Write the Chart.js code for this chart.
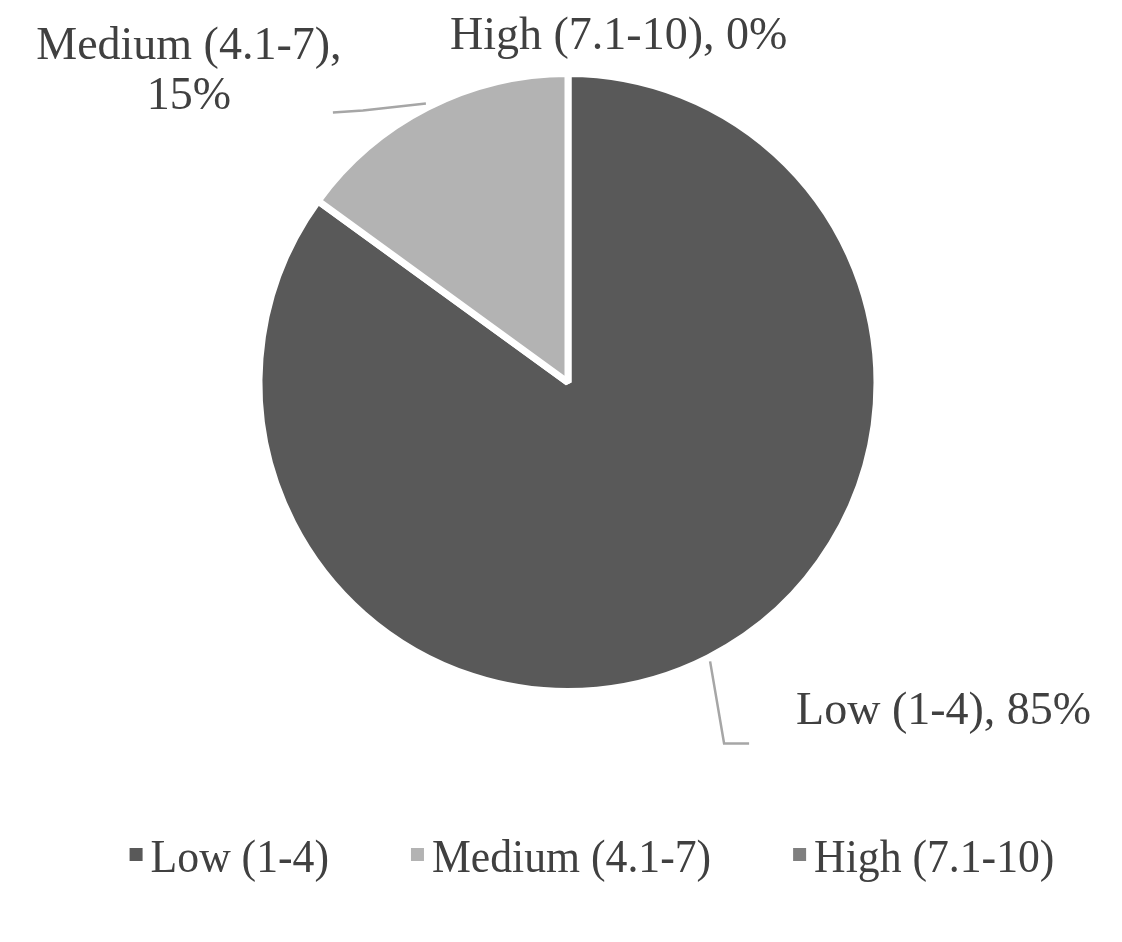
<!DOCTYPE html>
<html>

<head>
  <title>Risk Level Pie</title>
  <script src="https://cdn.jsdelivr.net/npm/chart.js"></script>
</head>

<body>
  <div class="container">
    <canvas id="pieChart"></canvas>
  </div>
</body>

<style>
  html,
  body {
    margin: 0;
    padding: 0;
    background: #fff;
  }

  .container {
    position: relative;
    width: 1122px;
    height: 942px;
  }
</style>

<script>
  // chart data
  const categories = ['Low (1-4)', 'Medium (4.1-7)', 'High (7.1-10)'];
  const percentages = [85, 15, 0];
  const sliceColors = ['#595959', '#b3b3b3', '#7f7f7f'];

  const fontFamily = '"Liberation Serif", "Times New Roman", serif';
  const textColor = '#404040';
  const leaderColor = '#a6a6a6';

  // where each data label sits, relative to a point just outside its slice
  const labelLayout = [
    { lines: [0], dx: 86, dy: 63, align: 'left', leader: [[14, 82], [39, 82]] },
    { lines: [-50, 0], split: true, dx: -237, dy: 5, align: 'center', leader: [[-63, 7], [-93, 9]] },
    { lines: [0], dx: -118, dy: -21, align: 'left', leader: null },
  ];

  // draws "Category, N%" labels with leader lines
  const dataLabels = {
    id: 'dataLabels',
    afterDatasetsDraw(chart) {
      const ctx = chart.ctx;
      const meta = chart.getDatasetMeta(0);
      ctx.save();
      ctx.font = '46px ' + fontFamily;
      ctx.fillStyle = textColor;
      ctx.textBaseline = 'alphabetic';
      meta.data.forEach((arc, i) => {
        const p = arc.getProps(['x', 'y', 'startAngle', 'endAngle', 'outerRadius'], true);
        const mid = (p.startAngle + p.endAngle) / 2;
        const ax = p.x + Math.cos(mid) * (p.outerRadius + 4);
        const ay = p.y + Math.sin(mid) * (p.outerRadius + 4);
        const lay = labelLayout[i];

        if (lay.leader) {
          ctx.strokeStyle = leaderColor;
          ctx.lineWidth = 2.5;
          ctx.beginPath();
          ctx.moveTo(ax, ay);
          lay.leader.forEach(pt => ctx.lineTo(ax + pt[0], ay + pt[1]));
          ctx.stroke();
        }

        const text = categories[i] + ', ' + percentages[i] + '%';
        const parts = lay.split ? [categories[i] + ',', percentages[i] + '%'] : [text];
        ctx.textAlign = lay.align;
        parts.forEach((t, k) => {
          ctx.fillText(t, ax + lay.dx, ay + lay.dy + lay.lines[k]);
        });
      });
      ctx.restore();
    }
  };

  // legend along the bottom, drawn by hand so the spacing matches
  const bottomLegend = {
    id: 'bottomLegend',
    afterDraw(chart) {
      const ctx = chart.ctx;
      const scaleX = 0.95;
      const box = 13;
      const boxGap = 8;
      const itemGap = 82;
      const baseline = 872;
      const centerX = 592;
      ctx.save();
      ctx.font = '46px ' + fontFamily;
      const widths = categories.map(c => ctx.measureText(c).width * scaleX);
      const total = widths.reduce((a, b) => a + b, 0) + categories.length * (box + boxGap) + itemGap * (categories.length - 1);
      let x = centerX - total / 2;
      categories.forEach((c, i) => {
        ctx.fillStyle = sliceColors[i];
        ctx.fillRect(x, baseline - 24, box, box);
        x += box + boxGap;
        ctx.save();
        ctx.translate(x, baseline);
        ctx.scale(scaleX, 1);
        ctx.fillStyle = textColor;
        ctx.textAlign = 'left';
        ctx.fillText(c, 0, 0);
        ctx.restore();
        x += widths[i] + itemGap;
      });
      ctx.restore();
    }
  };

  const ctx = document.getElementById('pieChart').getContext('2d');

  const pieChart = new Chart(ctx, {
    type: 'pie',
    data: {
      labels: categories,
      datasets: [{
        data: percentages,
        backgroundColor: sliceColors,
        borderColor: '#ffffff',
        borderWidth: 7,
        hoverBorderWidth: 7,
      }]
    },
    options: {
      responsive: true,
      maintainAspectRatio: false,
      animation: false,
      layout: {
        padding: { left: 255.5, right: 241.5, top: 70, bottom: 247 }
      },
      plugins: {
        legend: { display: false },
        tooltip: { enabled: false }
      }
    },
    plugins: [dataLabels, bottomLegend]
  });
</script>

</html>
